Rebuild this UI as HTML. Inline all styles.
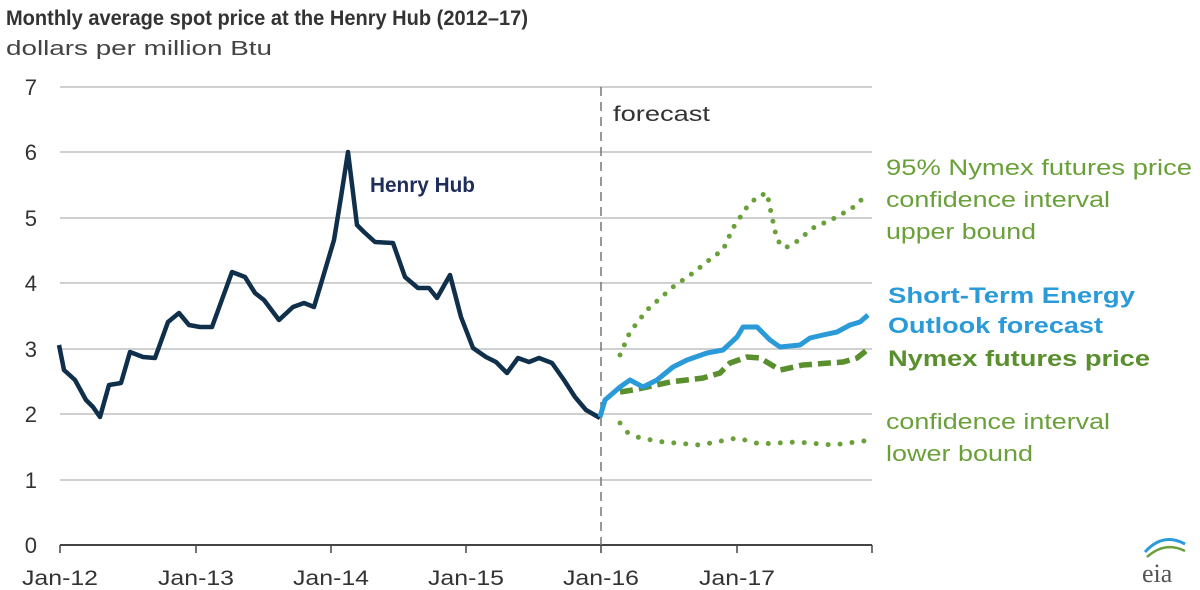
<!DOCTYPE html>
<html><head><meta charset="utf-8"><style>
html,body{margin:0;padding:0;background:#fff;}
svg{display:block;font-family:"Liberation Sans",Arial,sans-serif;}
</style></head><body>
<svg width="1200" height="590" viewBox="0 0 1200 590">
<rect width="1200" height="590" fill="#fff"/>
<text x="6" y="25" font-size="21" font-weight="bold" fill="#333" textLength="522" lengthAdjust="spacingAndGlyphs">Monthly average spot price at the Henry Hub (2012–17)</text>
<text x="6" y="55" font-size="20" fill="#444" textLength="266" lengthAdjust="spacingAndGlyphs">dollars per million Btu</text>
<g stroke="#d0d0d0" stroke-width="2">
<line x1="60" x2="872" y1="87" y2="87"/><line x1="60" x2="872" y1="152" y2="152"/>
<line x1="60" x2="872" y1="218" y2="218"/><line x1="60" x2="872" y1="283" y2="283"/>
<line x1="60" x2="872" y1="349" y2="349"/><line x1="60" x2="872" y1="414" y2="414"/>
<line x1="60" x2="872" y1="480" y2="480"/>
</g>
<line x1="60" x2="872" y1="545" y2="545" stroke="#444" stroke-width="2"/>
<g stroke="#444" stroke-width="1.5">
<line x1="60" x2="60" y1="545" y2="553"/><line x1="196" x2="196" y1="545" y2="553"/>
<line x1="331" x2="331" y1="545" y2="553"/><line x1="466" x2="466" y1="545" y2="553"/>
<line x1="601" x2="601" y1="545" y2="553"/><line x1="737" x2="737" y1="545" y2="553"/>
<line x1="872" x2="872" y1="545" y2="553"/>
</g>
<g font-size="22" fill="#333" text-anchor="end">
<text x="37" y="95">7</text><text x="37" y="160">6</text><text x="37" y="226">5</text>
<text x="37" y="291">4</text><text x="37" y="357">3</text><text x="37" y="422">2</text>
<text x="37" y="488">1</text><text x="37" y="553">0</text>
</g>
<g font-size="21" fill="#333">
<text x="22" y="585" textLength="76" lengthAdjust="spacingAndGlyphs">Jan-12</text>
<text x="158" y="585" textLength="76" lengthAdjust="spacingAndGlyphs">Jan-13</text>
<text x="293" y="585" textLength="76" lengthAdjust="spacingAndGlyphs">Jan-14</text>
<text x="428" y="585" textLength="76" lengthAdjust="spacingAndGlyphs">Jan-15</text>
<text x="563" y="585" textLength="76" lengthAdjust="spacingAndGlyphs">Jan-16</text>
<text x="699" y="585" textLength="76" lengthAdjust="spacingAndGlyphs">Jan-17</text>
</g>
<line x1="601" x2="601" y1="87" y2="545" stroke="#777" stroke-width="1.5" stroke-dasharray="9,6"/>
<text x="613" y="121" font-size="21" fill="#333" textLength="97" lengthAdjust="spacingAndGlyphs">forecast</text>
<polyline fill="none" stroke="#0f2f4a" stroke-width="4.5" stroke-linejoin="round" points="59,345 64,370 75,380 86,400 93,407 100,417 109,385 121,383 130,352 143,357 155,358 168,322 179,313 189,325 200,327 212,327 232,272 245,277 255,293 264,300 279,320 293,307 304,303 314,307 323,277 334,240 341,197 348,152 357,225 364,232 375,242 393,243 405,277 418,288 429,288 437,298 450,275 461,317 473,348 486,357 496,362 507,373 518,358 529,362 539,358 552,363 564,380 575,397 586,410 600,418"/>
<polyline fill="none" stroke="#6aa03a" stroke-width="5" stroke-linecap="round" stroke-dasharray="0,11" points="620,355 630,332 647,310 673,287 693,273 713,257 723,250 733,228 747,207 757,197 767,193 772,217 777,240 785,248 795,243 813,228 837,217 857,205 867,193"/>
<polyline fill="none" stroke="#6aa03a" stroke-width="5" stroke-linecap="round" stroke-dasharray="0,12" points="620,423 628,433 640,438 663,442 700,445 737,438 760,444 797,442 833,445 864,441"/>
<polyline fill="none" stroke="#5a8f2e" stroke-width="5.5" stroke-dasharray="13,6" points="620,392 633,390 647,387 670,382 703,378 720,373 730,363 747,357 760,358 780,370 803,365 843,362 857,358 867,350"/>
<polyline fill="none" stroke="#2a9ad8" stroke-width="5" stroke-linejoin="round" points="600,417 605,400 620,387 630,380 643,387 657,380 673,367 687,360 707,353 723,350 737,337 743,327 757,327 770,340 780,347 800,345 810,338 823,335 837,332 850,325 860,322 868,315"/>
<text x="370" y="192" font-size="21" font-weight="bold" fill="#1e2d5a" textLength="105" lengthAdjust="spacingAndGlyphs">Henry Hub</text>
<g font-size="22" fill="#6aa03a">
<text x="886" y="175" textLength="306" lengthAdjust="spacingAndGlyphs">95% Nymex futures price</text>
<text x="886" y="207" textLength="224" lengthAdjust="spacingAndGlyphs">confidence interval</text>
<text x="886" y="239" textLength="150" lengthAdjust="spacingAndGlyphs">upper bound</text>
<text x="886" y="429" textLength="224" lengthAdjust="spacingAndGlyphs">confidence interval</text>
<text x="886" y="461" textLength="147" lengthAdjust="spacingAndGlyphs">lower bound</text>
</g>
<g font-size="22" font-weight="bold">
<text x="888" y="303" fill="#2a9ad8" textLength="247" lengthAdjust="spacingAndGlyphs">Short-Term Energy</text>
<text x="888" y="333" fill="#2a9ad8" textLength="215" lengthAdjust="spacingAndGlyphs">Outlook forecast</text>
<text x="888" y="366" fill="#5a8f2e" textLength="262" lengthAdjust="spacingAndGlyphs">Nymex futures price</text>
</g>
<path d="M1145,552 q18,-20 40,-8" stroke="#2a9ad8" stroke-width="3" fill="none"/>
<path d="M1147,557 q18,-16 38,-6" stroke="#6aa03a" stroke-width="2.5" fill="none"/>
<text x="1142" y="582" font-size="26" fill="#555" font-family="Liberation Serif,serif">eia</text>
</svg>
</body></html>
